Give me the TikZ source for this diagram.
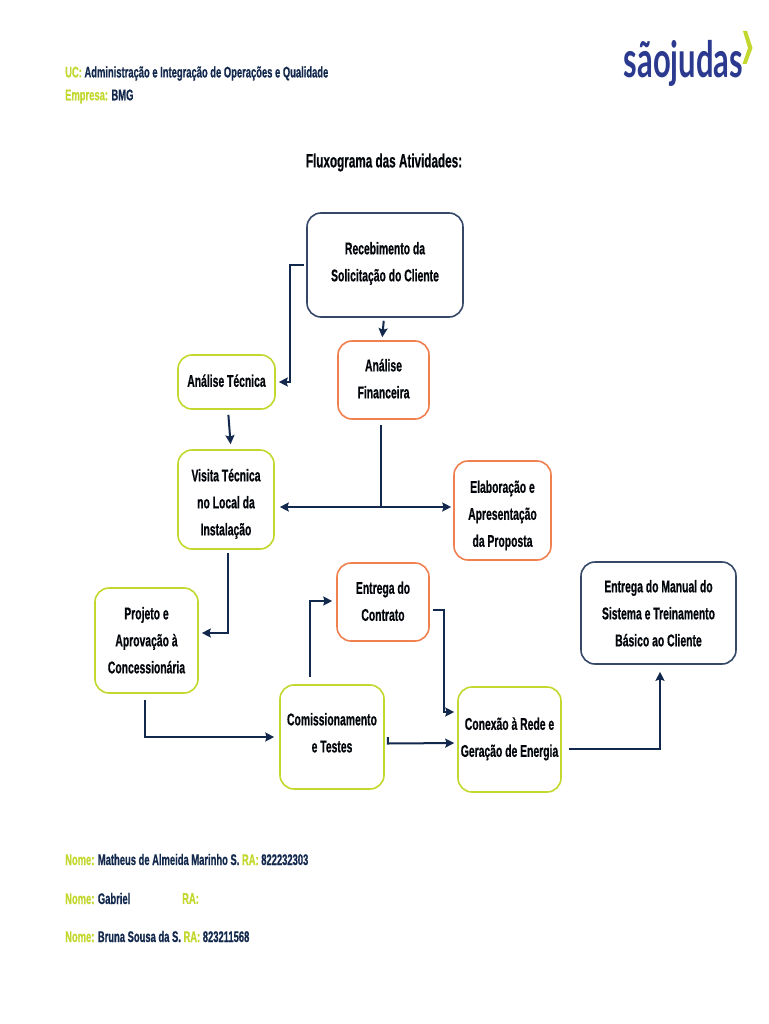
\documentclass[tikz,border=0pt]{standalone}
\usepackage{fontspec}
\setmainfont{Liberation Sans}[FakeStretch=0.61,BoldFeatures={FakeBold=0.6}]
\newfontfamily\logofont{Lato}[FakeStretch=0.62]
\usetikzlibrary{arrows.meta}
\definecolor{navy}{HTML}{12284C}
\definecolor{lime}{HTML}{C3D82E}
\definecolor{coral}{HTML}{F08050}
\definecolor{logoblue}{HTML}{2B3A8E}
\tikzset{
  every node/.style={font=\bfseries\fontsize{17}{27}\selectfont, text=black!88!navy},
  proc/.style={draw, line width=1.6pt, rounded corners=14pt, fill=white, inner sep=0pt},
  greenbox/.style={proc, draw=lime},
  orangebox/.style={proc, draw=coral},
  navybox/.style={proc, draw=navy!85!white},
  arr/.style={draw=navy, line width=2pt, -{Stealth[length=9pt,width=9pt,inset=1.5pt]}},
  plainline/.style={draw=navy, line width=2pt},
  info/.style={anchor=west, inner sep=0pt, font=\bfseries\fontsize{15.4}{16}\selectfont, text=navy}
}
\newcommand{\lbl}[1]{\textcolor{lime}{#1}}
% box text, moved down by #1 from the box centre
\newcommand{\bt}[2]{\raisebox{\dimexpr -3.75pt - #1\relax}[0pt][0pt]{\begin{tabular}{@{}c@{}}#2\end{tabular}}}
\begin{document}
\begin{tikzpicture}[x=1pt,y=-1pt]
\useasboundingbox (0,0) rectangle (768,1024);
\fill[white] (0,0) rectangle (768,1024);

% header
\node[info] (uc) at (65,73.5) {\lbl{UC:} Administração e Integração de Operações e Qualidade};
\node[info] (emp) at (65,96.5) {\lbl{Empresa:} BMG};
\node[inner sep=0pt, font=\bfseries\fontsize{19.2}{20}\selectfont] (title) at (384,162.5) {Fluxograma das Atividades:};

% logo
\node[inner sep=0pt, anchor=center, text=logoblue, font=\logofont\bfseries\fontsize{50}{50}\selectfont] (logo) at (683.5,63) {sãojudas};
\fill[lime] (743,31) -- (747,31) -- (752.5,48) -- (746.5,64) -- (742.5,64) -- (748,48) -- cycle;

% boxes
\node[navybox, minimum width=156pt, minimum height=104pt] (rec) at (385,265) {\bt{-2pt}{Recebimento da\\Solicitação do Cliente}};
\node[orangebox, minimum width=91pt, minimum height=78pt] (fin) at (383.5,380) {\bt{0pt}{Análise\\Financeira}};
\node[greenbox, minimum width=97pt, minimum height=54pt] (tec) at (226.5,382) {\bt{0pt}{Análise Técnica}};
\node[greenbox, minimum width=96pt, minimum height=99pt] (vis) at (226,499.5) {\bt{4pt}{Visita Técnica\\no Local da\\Instalação}};
\node[orangebox, minimum width=97pt, minimum height=99pt] (ela) at (502.5,510.5) {\bt{4.5pt}{Elaboração e\\Apresentação\\da Proposta}};
\node[greenbox, minimum width=103pt, minimum height=105pt] (pro) at (146.5,640.5) {\bt{1pt}{Projeto e\\Aprovação à\\Concessionária}};
\node[orangebox, minimum width=92pt, minimum height=78pt] (con) at (383,602) {\bt{0.5pt}{Entrega do\\Contrato}};
\node[navybox, minimum width=155pt, minimum height=102pt] (man) at (658.5,613) {\bt{1.5pt}{Entrega do Manual do\\Sistema e Treinamento\\Básico ao Cliente}};
\node[greenbox, minimum width=104pt, minimum height=104pt] (com) at (332,737) {\bt{-3pt}{Comissionamento\\e Testes}};
\node[greenbox, minimum width=103pt, minimum height=105pt] (cnx) at (509.5,739.5) {\bt{-1pt}{Conexão à Rede e\\Geração de Energia}};

% connectors
\draw[arr, shorten <=2pt, shorten >=3pt] (rec.west) -- ++(-16,0) |- (tec.east);
\draw[arr, shorten <=3pt, shorten >=3pt] ([xshift=-1pt]rec.south) -- ([xshift=-1.5pt]fin.north);
\draw[arr, shorten <=5pt, shorten >=5pt] ([xshift=1.5pt]tec.south) -- ([xshift=5pt]vis.north);
\draw[plainline, shorten <=5pt] ([xshift=-2.5pt]fin.south) -- (381,507);
\draw[arr, {Stealth[length=9pt,width=9pt,inset=1.5pt]}-{Stealth[length=9pt,width=9pt,inset=1.5pt]}, shorten <=5pt, shorten >=2pt] (vis.east |- 0,507) -- (ela.west |- 0,507);
\draw[arr, shorten <=3pt, shorten >=3pt] ([xshift=2pt]vis.south) |- ([yshift=7.5pt]pro.east);
\draw[arr, shorten <=6pt, shorten >=5pt] ([xshift=-1.5pt]pro.south) |- (com.west);
\draw[arr, shorten <=7pt, shorten >=4pt] ([xshift=-22pt]com.north) |- ([yshift=1pt]con.west);
\draw[arr, shorten <=3pt, shorten >=3pt] ([yshift=-8pt]con.east) -- ++(14,0) |- ([yshift=27.5pt]cnx.west);
\draw[arr, shorten >=3pt] ([xshift=3pt]com.east) -- ++(0,6.5) -- ([yshift=-3.5pt]cnx.west);
\draw[arr, shorten <=7pt, shorten >=7pt] ([yshift=-9.5pt]cnx.east) -| ([xshift=1.5pt]man.south);

% footer
\node[info] (n1) at (65,859.5) {\lbl{Nome:} Matheus de Almeida Marinho S. \lbl{RA:} 822232303};
\node[info] (n2) at (65,898.5) {\lbl{Nome:} Gabriel};
\node[info] (n2ra) at (182,898.5) {\lbl{RA:}};
\node[info] (n3) at (65,936.5) {\lbl{Nome:} Bruna Sousa da S. \lbl{RA:} 823211568};
\end{tikzpicture}
\end{document}
